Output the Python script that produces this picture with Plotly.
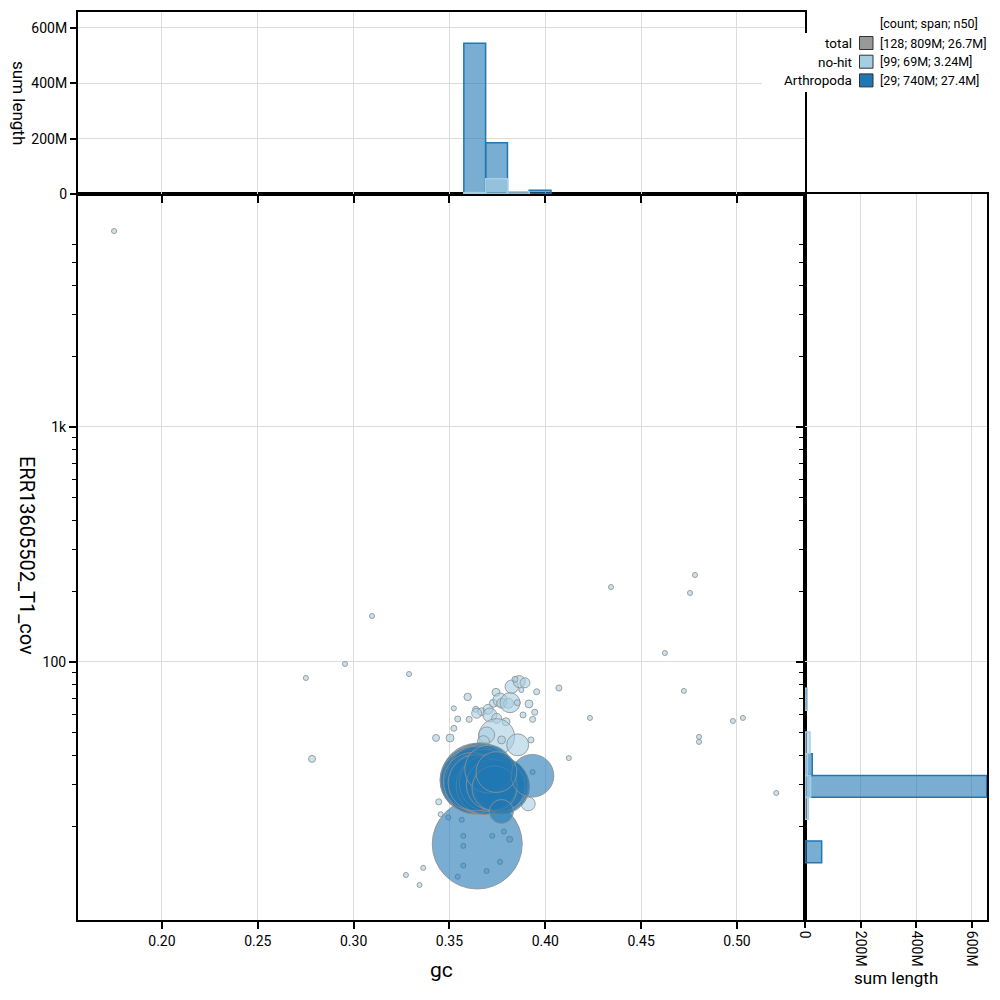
import numpy as np
import plotly.graph_objects as go

# ---------------- data ----------------
legend_header = "[count; span; n50]"
legend_names = ["total", "no-hit", "Arthropoda"]
legend_stats = ["[128; 809M; 26.7M]", "[99; 69M; 3.24M]", "[29; 740M; 27.4M]"]

# no-hit contigs: gc, coverage, length (Mb)
nohit_gc = [0.1750, 0.2751, 0.2783, 0.2955, 0.3096, 0.3289, 0.4343, 0.4781, 0.4755, 0.4624,
            0.4723, 0.4071, 0.4233, 0.4123, 0.4802, 0.4802, 0.4979, 0.5031, 0.5205, 0.3430,
            0.3273, 0.3344, 0.3363, 0.3444, 0.3454, 0.3595, 0.3825, 0.3864, 0.3894, 0.3842,
            0.3875, 0.3955, 0.3743, 0.3523, 0.3637, 0.3668, 0.3702, 0.3729, 0.3764, 0.3773,
            0.3808, 0.3816, 0.3854, 0.3915, 0.3945, 0.3884, 0.3934, 0.3543, 0.3603, 0.3642,
            0.3711, 0.3746, 0.3795, 0.3523, 0.3503, 0.3746, 0.3856, 0.3694, 0.3677, 0.3925,
            0.3772, 0.3911, 0.3494, 0.3564, 0.3572, 0.3723, 0.3784, 0.3814, 0.3572, 0.3572,
            0.3764, 0.3694, 0.3543, 0.3934, 0.366, 0.370, 0.372, 0.368, 0.371, 0.369, 0.367, 0.365]
nohit_cov = [6823, 85.5, 38.7, 98.1, 156.9, 88.9, 208.4, 234.6, 196.7, 109.2,
             75.3, 77.5, 57.8, 39.0, 48.0, 45.7, 56.1, 57.8, 27.7, 47.5,
             12.4, 11.25, 13.3, 25.4, 22.5, 71.0, 78.5, 82.5, 81.6, 84.4,
             76.0, 74.7, 74.3, 63.5, 62.9, 61.4, 62.9, 66.7, 68.9, 66.7,
             66.7, 67.1, 67.1, 66.3, 61.1, 59.5, 57.0, 57.2, 57.0, 60.5,
             59.5, 57.6, 55.7, 52.2, 47.5, 48.1, 44.4, 48.9, 45.8, 46.6,
             46.6, 24.9, 21.8, 21.3, 18.2, 18.2, 19.0, 17.6, 16.5, 13.6,
             14.1, 12.9, 12.2, 34.0, 29.5, 30.5, 28.0, 31.0, 25.5, 26.0, 36.0, 34.0]
nohit_len_mb = [0.19, 0.19, 0.36, 0.19, 0.19, 0.19, 0.19, 0.19, 0.19, 0.19,
                0.19, 0.27, 0.19, 0.19, 0.19, 0.19, 0.19, 0.19, 0.19, 0.36,
                0.19, 0.19, 0.19, 0.27, 0.19, 0.41, 1.33, 1.07, 0.74, 0.27,
                0.19, 0.27, 0.47, 0.19, 0.27, 0.47, 0.74, 0.47, 1.45, 0.74,
                0.74, 2.96, 0.27, 0.47, 0.27, 0.27, 0.27, 0.27, 0.27, 0.74,
                1.45, 0.74, 0.47, 0.27, 0.47, 9.6, 3.58, 1.9, 1.07, 0.27,
                0.47, 1.45, 0.19, 0.19, 0.19, 0.19, 0.19, 0.27, 0.19, 0.19,
                0.19, 0.19, 0.19, 0.19, 6.0, 5.0, 4.0, 4.5, 4.0, 3.0, 3.0, 3.0]

# Arthropoda contigs: gc, coverage, length (Mb)
arth_gc = [0.3645, 0.3640, 0.3660, 0.3625, 0.3655, 0.3670, 0.3635, 0.3680, 0.3615, 0.3665,
           0.3645, 0.3685, 0.3630, 0.3675, 0.3650, 0.3620, 0.3685, 0.3700, 0.3640, 0.3765,
           0.3775, 0.3770, 0.3760, 0.3720, 0.3705, 0.3735, 0.3933, 0.3745, 0.3771]
arth_cov = [16.8, 32.0, 32.5, 31.5, 32.2, 31.0, 31.8, 30.8, 31.2, 30.5,
            32.6, 31.6, 30.2, 30.0, 30.4, 31.0, 29.8, 30.5, 30.6, 29.8,
            29.5, 30.2, 29.6, 30.0, 35.0, 29.0, 32.8, 34.0, 23.1]
arth_len_mb = [60, 36, 34, 33, 32, 31, 30, 29.5, 29, 28.5,
               27.4, 27, 26.5, 26, 25.5, 25, 24.5, 24, 23.5, 23,
               22, 21, 20, 19, 17, 15, 13.5, 12.3, 4.3]

# gc histogram (top panel): bin lower edges, bin width, summed length
gc_bin_lo = [0.3575, 0.3689, 0.3802, 0.3916]
gc_bin_width = 0.01137
arth_gc_sum = [545e6, 185e6, 0, 14e6]
nohit_gc_sum = [5e6, 55e6, 8e6, 0]

# coverage histogram (right panel): log10 bin lower edges, width, summed length
cov_bin_lo_log = [1.146, 1.331, 1.424, 1.517, 1.609, 1.795]
cov_bin_width_log = 0.0927
arth_cov_sum = [60e6, 0, 654e6, 26e6, 0, 0]
nohit_cov_sum = [0, 12e6, 20e6, 8e6, 18e6, 8e6]

x_ticks = [0.20, 0.25, 0.30, 0.35, 0.40, 0.45, 0.50]
x_ticktext = ["0.20", "0.25", "0.30", "0.35", "0.40", "0.45", "0.50"]
y_major = [100, 1000]
y_major_text = ["100", "1k"]
y_minor = [20, 30, 40, 50, 60, 70, 80, 90, 200, 300, 400, 500, 600, 700, 800, 900,
           2000, 3000, 4000, 5000, 6000]
len_ticks = [0, 200e6, 400e6, 600e6]
len_ticktext = ["0", "200M", "400M", "600M"]

# ---------------- styling ----------------
FONT = "Roboto"
C_NOHIT = "#a6cee3"
C_ARTH = "#1f78b4"
GRID = "#dcdcdc"
X_RANGE = [0.1562, 0.5355]
Y_RANGE_LOG = [0.902, 3.9915]
R_PER_SQRT_MB = 5.81  # px radius per sqrt(Mb)


def rgba(hexc, a):
    h = hexc.lstrip("#")
    return "rgba(%d,%d,%d,%s)" % (int(h[0:2], 16), int(h[2:4], 16), int(h[4:6], 16), a)


def sizes(lens):
    return [2 * R_PER_SQRT_MB * np.sqrt(v) for v in lens]


fig = go.Figure()

# scatter: no-hit first, Arthropoda above
for gcs, covs, lens, col in [(nohit_gc, nohit_cov, nohit_len_mb, C_NOHIT),
                             (arth_gc, arth_cov, arth_len_mb, C_ARTH)]:
    fig.add_trace(go.Scatter(
        x=gcs, y=covs, mode="markers", xaxis="x", yaxis="y", showlegend=False,
        marker=dict(size=sizes(lens), sizemode="diameter", color=rgba(col, 0.6),
                    opacity=1,
                    line=dict(color="rgba(145,145,145,0.85)", width=1))))

# top histogram
for sums, col in [(arth_gc_sum, C_ARTH), (nohit_gc_sum, C_NOHIT)]:
    xs = [lo + gc_bin_width / 2 for lo, s in zip(gc_bin_lo, sums) if s > 0]
    ys = [s for s in sums if s > 0]
    fig.add_trace(go.Bar(x=xs, y=ys, width=gc_bin_width, xaxis="x2", yaxis="y2",
                         showlegend=False,
                         marker=dict(color=rgba(col, 0.6), line=dict(color=col, width=1.5))))

# right histogram
for sums, col in [(arth_cov_sum, C_ARTH), (nohit_cov_sum, C_NOHIT)]:
    ys = [lo + cov_bin_width_log / 2 for lo, s in zip(cov_bin_lo_log, sums) if s > 0]
    xs = [s for s in sums if s > 0]
    fig.add_trace(go.Bar(x=xs, y=ys, width=cov_bin_width_log, orientation="h",
                         xaxis="x3", yaxis="y3", showlegend=False,
                         marker=dict(color=rgba(col, 0.6), line=dict(color=col, width=1.5))))

frame = dict(showline=True, linecolor="black", linewidth=2, mirror=True,
             zeroline=False, gridcolor=GRID, gridwidth=1, automargin=False)
tickfont = dict(family=FONT, size=14, color="black")

fig.update_layout(
    width=1000, height=1000, margin=dict(l=0, r=0, t=0, b=0, pad=0, autoexpand=False),
    paper_bgcolor="white", plot_bgcolor="white", barmode="overlay",
    font=dict(family=FONT, color="black"),
    xaxis=dict(domain=[0.078, 0.805], anchor="y", range=X_RANGE,
               tickmode="array", tickvals=x_ticks, ticktext=x_ticktext,
               ticks="outside", ticklen=7, tickwidth=2, tickcolor="black",
               tickfont=tickfont, showgrid=True, **frame),
    yaxis=dict(domain=[0.08, 0.806], anchor="x", type="log", range=Y_RANGE_LOG,
               tickmode="array", tickvals=y_major, ticktext=y_major_text,
               ticks="outside", ticklen=7, tickwidth=2, tickcolor="black",
               tickfont=tickfont, showgrid=True,
               minor=dict(tickmode="array", tickvals=y_minor, ticks="outside",
                          ticklen=4, tickwidth=1, tickcolor="black", showgrid=False),
               **frame),
    xaxis2=dict(domain=[0.078, 0.805], anchor="y2", range=X_RANGE,
                tickmode="array", tickvals=x_ticks, showticklabels=False,
                ticks="outside", ticklen=7, tickwidth=2, tickcolor="black",
                showgrid=True, **frame),
    yaxis2=dict(domain=[0.806, 0.988], anchor="x2", range=[0, 657.8e6],
                tickmode="array", tickvals=len_ticks, ticktext=len_ticktext,
                ticks="outside", ticklen=6, tickwidth=2, tickcolor="black",
                tickfont=tickfont, showgrid=True, **frame),
    xaxis3=dict(domain=[0.805, 0.987], anchor="y3", range=[0, 655e6],
                tickmode="array", tickvals=len_ticks, ticktext=len_ticktext,
                tickangle=90, ticks="outside", ticklen=6, tickwidth=2,
                tickcolor="black", tickfont=tickfont, showgrid=True, **frame),
    yaxis3=dict(domain=[0.08, 0.806], anchor="x3", range=Y_RANGE_LOG,
                tickmode="array", tickvals=list(np.log10(y_major)),
                showticklabels=False, ticks="outside", ticklen=7, tickwidth=2,
                tickcolor="black", showgrid=True,
                minor=dict(tickmode="array", tickvals=list(np.log10(y_minor)),
                           ticks="outside", ticklen=4, tickwidth=1,
                           tickcolor="black", showgrid=False),
                **frame),
)


def px_x(px):
    return px / 1000.0


def px_y(py):
    return 1 - py / 1000.0


annotations = [
    dict(text="gc", x=px_x(441.5), y=px_y(970), font=dict(family=FONT, size=21)),
    dict(text="sum length", x=px_x(896), y=px_y(978), font=dict(family=FONT, size=17)),
    dict(text="sum length", x=px_x(19), y=px_y(103), textangle=90,
         font=dict(family=FONT, size=17)),
    dict(text="ERR13605502_T1_cov", x=px_x(27), y=px_y(555), textangle=90,
         font=dict(family=FONT, size=20)),
    dict(text=legend_header, x=px_x(878), y=px_y(23), xanchor="left",
         font=dict(family=FONT, size=12.5)),
]
shapes = [dict(type="rect", xref="paper", yref="paper", x0=px_x(762), x1=1.0,
               y0=px_y(92), y1=px_y(33), fillcolor="white", line=dict(width=0),
               layer="above")]
swatch_colors = ["#999999", C_NOHIT, C_ARTH]
for i, (name, stat, sc) in enumerate(zip(legend_names, legend_stats, swatch_colors)):
    yc = 43 + i * 18.7
    annotations.append(dict(text=name, x=px_x(854), y=px_y(yc), xanchor="right",
                            font=dict(family=FONT, size=13.5)))
    annotations.append(dict(text=stat, x=px_x(878), y=px_y(yc), xanchor="left",
                            font=dict(family=FONT, size=12.5)))
    shapes.append(dict(type="rect", xref="paper", yref="paper",
                       x0=px_x(859.5), x1=px_x(873), y0=px_y(yc + 6.5), y1=px_y(yc - 6.5),
                       fillcolor=sc, line=dict(color="#333333", width=1), layer="above"))

for a in annotations:
    a.setdefault("xref", "paper")
    a.setdefault("yref", "paper")
    a.setdefault("showarrow", False)
    a.setdefault("yanchor", "middle")
    a.setdefault("xanchor", "center")
    a["font"]["color"] = "black"

fig.update_layout(annotations=annotations, shapes=shapes)
fig.write_html("out.html")
